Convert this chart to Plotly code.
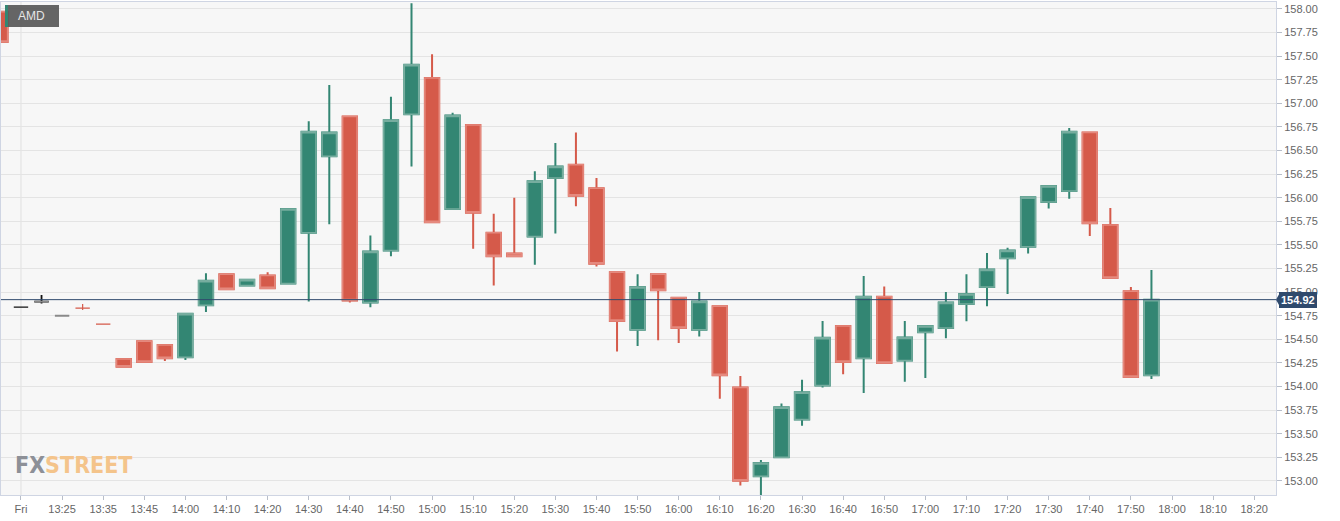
import plotly.graph_objects as go

# ---------------- data ----------------
symbol = "AMD"
# 5-minute slot index of each candle (slot 0 = "Fri" tick)
slots = list(range(-1, 56))
opens = [157.97, 154.84, 154.90, 154.75, 154.83, 154.66,
         154.29, 154.48, 154.44, 154.31, 154.86, 155.19, 155.07, 155.175, 155.09,
         155.63, 156.44, 156.86, 154.89, 155.44, 156.885, 157.27, 155.88, 156.77,
         155.63, 155.41, 155.59, 156.21, 156.35, 156.10, 155.21, 154.60, 155.19,
         154.94, 154.60, 154.85, 153.99, 153.05, 153.25, 153.65, 154.01, 154.64,
         154.30, 154.95, 154.275, 154.575, 154.62, 154.875, 155.055, 155.36, 155.48,
         155.955, 156.07, 156.69, 155.71, 155.01, 154.12]
highs = [157.97, 154.84, 154.97, 154.75, 154.875, 154.66,
         154.29, 154.48, 154.44, 154.77, 155.20, 155.19, 155.13, 155.21, 155.88,
         156.81, 157.195, 156.86, 155.60, 157.07, 158.06, 157.52, 156.90, 156.77,
         155.83, 156.00, 156.28, 156.58, 156.69, 156.21, 155.21, 155.19, 155.19,
         154.94, 155.00, 154.85, 154.11, 153.22, 153.82, 154.07, 154.695, 154.64,
         155.17, 155.06, 154.695, 154.65, 155.00, 155.19, 155.415, 155.47, 156.005,
         156.13, 156.74, 156.69, 155.89, 155.055, 155.235]
lows = [157.65, 154.84, 154.88, 154.75, 154.81, 154.66,
        154.21, 154.26, 154.27, 154.28, 154.79, 155.03, 155.06, 155.04, 155.09,
        154.90, 155.72, 154.89, 154.84, 155.38, 156.33, 155.74, 155.88, 155.46,
        155.07, 155.38, 155.29, 155.62, 155.91, 155.27, 154.37, 154.43, 154.49,
        154.46, 154.53, 153.87, 152.95, 152.84, 153.25, 153.585, 153.99, 154.13,
        153.93, 154.25, 154.05, 154.09, 154.51, 154.69, 154.85, 154.98, 155.41,
        155.885, 155.99, 155.595, 155.15, 154.10, 154.08]
closes = [157.65, 154.84, 154.90, 154.75, 154.83, 154.66,
          154.21, 154.26, 154.30, 154.77, 155.12, 155.03, 155.13, 155.04, 155.88,
          156.70, 156.69, 154.91, 155.43, 156.82, 157.41, 155.74, 156.87, 155.84,
          155.38, 155.38, 156.175, 156.33, 156.02, 155.30, 154.695, 155.055, 155.02,
          154.62, 154.90, 154.12, 153.00, 153.19, 153.78, 153.94, 154.515, 154.26,
          154.95, 154.25, 154.52, 154.64, 154.89, 154.98, 155.24, 155.44, 156.005,
          156.125, 156.70, 155.73, 155.15, 154.10, 154.92]

tick_slots = list(range(0, 61, 2))
tick_labels = ["Fri", "13:25", "13:35", "13:45", "14:00", "14:10", "14:20", "14:30",
               "14:40", "14:50", "15:00", "15:10", "15:20", "15:30", "15:40", "15:50",
               "16:00", "16:10", "16:20", "16:30", "16:40", "16:50", "17:00", "17:10",
               "17:20", "17:30", "17:40", "17:50", "18:00", "18:10", "18:20"]
last_price = closes[-1]

# ---------------- styles ----------------
GREEN = "#338673"
GREEN_EDGE = "#76ad9f"
RED = "#d55a4a"
RED_EDGE = "#e5897e"
NAVY = "#2f4a6d"
# pre-market (flat) candles drawn individually: list position -> (wick colour, body colour, width)
flat_styles = {1: ("#111111", "#111111", 1.2), 2: ("#111111", "#8a8a8a", 1.8),
               3: ("#8a8a8a", "#8a8a8a", 2.0), 4: ("#d55a4a", "#d55a4a", 1.2),
               5: ("#d55a4a", "#d55a4a", 1.2)}

W, H = 1340, 521
ML, MR, MT, MB = 1, 64, 2, 26
PW, PH = W - ML - MR, H - MT - MB


def px_x(p):
    return (p - ML) / PW


def px_y(p):
    return (H - MB - p) / PH


fig = go.Figure()

regular = [i for i in range(len(slots)) if i not in flat_styles]


def pick(arr, idx):
    return [arr[i] for i in idx]


# full candles (wicks + bodies)
fig.add_trace(go.Candlestick(
    x=pick(slots, regular), open=pick(opens, regular), high=pick(highs, regular),
    low=pick(lows, regular), close=pick(closes, regular),
    increasing=dict(line=dict(color=GREEN, width=2), fillcolor=GREEN),
    decreasing=dict(line=dict(color=RED, width=2), fillcolor=RED),
    whiskerwidth=0, showlegend=False, hoverinfo="skip"))

# body overlay with lighter edge
b_hi = [max(opens[i], closes[i]) for i in regular]
b_lo = [min(opens[i], closes[i]) for i in regular]
fig.add_trace(go.Candlestick(
    x=pick(slots, regular), open=pick(opens, regular), high=b_hi, low=b_lo,
    close=pick(closes, regular),
    increasing=dict(line=dict(color=GREEN_EDGE, width=1.5), fillcolor=GREEN),
    decreasing=dict(line=dict(color=RED_EDGE, width=1.5), fillcolor=RED),
    whiskerwidth=0, showlegend=False, hoverinfo="skip"))

# pre-market flat candles
for i, (wick_c, body_c, lw) in flat_styles.items():
    fig.add_trace(go.Candlestick(
        x=[slots[i]], open=[opens[i]], high=[highs[i]], low=[lows[i]], close=[closes[i]],
        increasing=dict(line=dict(color=wick_c, width=lw), fillcolor=body_c),
        decreasing=dict(line=dict(color=wick_c, width=lw), fillcolor=body_c),
        whiskerwidth=0, showlegend=False, hoverinfo="skip"))
    if body_c != wick_c:
        fig.add_trace(go.Candlestick(
            x=[slots[i]], open=[opens[i]], high=[opens[i]], low=[closes[i]], close=[closes[i]],
            increasing=dict(line=dict(color=body_c, width=lw), fillcolor=body_c),
            decreasing=dict(line=dict(color=body_c, width=lw), fillcolor=body_c),
            whiskerwidth=0, showlegend=False, hoverinfo="skip"))

shapes = [
    # day separator
    dict(type="line", xref="x", yref="paper", x0=0, x1=0, y0=0, y1=1,
         line=dict(color="#e0e0e0", width=1), layer="below"),
    # last price line
    dict(type="line", xref="paper", yref="y", x0=0, x1=1, y0=last_price, y1=last_price,
         line=dict(color=NAVY, width=1), layer="above"),
    # price tag pointer
    dict(type="path", xref="paper", yref="y",
         path=f"M {px_x(1276)} {last_price} L {px_x(1280)} {last_price + 0.075} "
              f"L {px_x(1280)} {last_price - 0.075} Z",
         fillcolor=NAVY, line=dict(width=0), layer="above"),
    # symbol label box
    dict(type="rect", xref="paper", yref="paper", x0=px_x(5), x1=px_x(59), y0=px_y(27), y1=px_y(5),
         fillcolor="rgba(88,88,88,0.92)", line=dict(width=0), layer="above"),
    dict(type="rect", xref="paper", yref="paper", x0=px_x(5), x1=px_x(8), y0=px_y(27), y1=px_y(5),
         fillcolor=GREEN, line=dict(width=0), layer="above"),
]

annotations = [
    dict(xref="paper", yref="paper", x=px_x(16), y=px_y(16), xanchor="left", yanchor="middle",
         text=symbol, showarrow=False, font=dict(family="Liberation Sans, Arial", size=12, color="#e6e6e6")),
    dict(xref="paper", yref="y", x=1, y=last_price, xanchor="left", yanchor="middle", xshift=3,
         text=f"<b>{last_price:.2f}</b>", showarrow=False, bgcolor=NAVY, bordercolor=NAVY,
         borderwidth=1, borderpad=1,
         font=dict(family="Liberation Sans, Arial", size=11, color="#ffffff")),
    dict(xref="paper", yref="paper", x=px_x(13), y=px_y(480), xanchor="left", yanchor="bottom",
         text="<span style='color:#8d9097'>FX</span><span style='color:#f4c48b'>STREET</span>",
         showarrow=False,
         font=dict(family="Liberation Sans Narrow, DejaVu Sans Condensed, Roboto Condensed, "
                          "Arial Narrow, Roboto, sans-serif", size=23, weight="bold")),
]

fig.update_layout(
    width=W, height=H,
    margin=dict(l=ML, r=MR, t=MT, b=MB),
    paper_bgcolor="#ffffff", plot_bgcolor="#f7f7f7",
    boxgap=0.3, boxgroupgap=0.0,
    showlegend=False,
    shapes=shapes, annotations=annotations,
    font=dict(family="Liberation Sans, Arial", size=11, color="#666666"),
    xaxis=dict(range=[-0.972, 61.06], tickvals=tick_slots, ticktext=tick_labels,
               showgrid=False, zeroline=False, rangeslider=dict(visible=False),
               ticks="outside", ticklen=4, tickcolor="#b8bec9",
               showline=True, linecolor="#cfd5e3", linewidth=1, mirror=True,
               tickfont=dict(size=11, color="#666666")),
    yaxis=dict(side="right", range=[152.85, 158.074], dtick=0.25, tick0=153,
               tickformat=".2f", showgrid=True, gridcolor="#e4e4e4", gridwidth=1,
               zeroline=False, ticks="outside", ticklen=5, tickcolor="#b8bec9",
               showline=True, linecolor="#cfd5e3", linewidth=1, mirror=True,
               tickfont=dict(size=11, color="#666666")),
)

fig.write_html("out.html", config={"displayModeBar": False},
               post_script="document.body.style.margin='0';")
